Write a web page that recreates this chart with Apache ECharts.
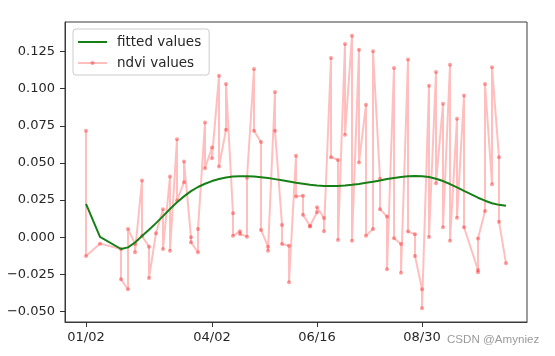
<!DOCTYPE html>
<html>
<head>
<meta charset="utf-8">
<script src="https://cdn.jsdelivr.net/npm/echarts@6/dist/echarts.min.js"></script>
<style>
html,body{margin:0;padding:0;background:#fff;}
#chart{width:555px;height:356px;}
</style>
</head>
<body>
<div id="chart"></div>
<script>
// Observation dates (5-day revisit grid, some missing)
const dates = ['2019-01-02','2019-01-12','2019-01-27','2019-02-01','2019-02-06','2019-02-11','2019-02-16','2019-02-21','2019-02-26','2019-03-03',
  '2019-03-08','2019-03-13','2019-03-18','2019-03-23','2019-03-28','2019-04-02','2019-04-07','2019-04-12','2019-04-17','2019-04-22',
  '2019-04-27','2019-05-02','2019-05-07','2019-05-12','2019-05-17','2019-05-22','2019-05-27','2019-06-01','2019-06-06','2019-06-11',
  '2019-06-16','2019-06-21','2019-06-26','2019-07-01','2019-07-06','2019-07-11','2019-07-16','2019-07-21','2019-07-26','2019-07-31',
  '2019-08-05','2019-08-10','2019-08-15','2019-08-20','2019-08-25','2019-08-30','2019-09-04','2019-09-09','2019-09-14','2019-09-19',
  '2019-09-24','2019-09-29','2019-10-09','2019-10-14','2019-10-19','2019-10-24','2019-10-29'];
// NDVI observations per date (in plotting order)
const ndvi = [[0.0716,-0.0126],[-0.0043],[-0.0079,-0.0283],[-0.035,0.0056],[-0.0045,-0.0101],[0.0381,0.0009],[-0.0063,-0.0274],[0.0027],[0.0189,-0.0079],[0.0408,-0.009],
  [0.066,0.0247],[0.037,0.051],[0.0,-0.0034],[-0.0101,0.0056],[0.0772,0.0465],[0.0604,0.0532],[0.1087,0.0476],[0.0723,0.1031],[0.0162,0.001],[0.004,0.0022],
  [0.0004,0.040],[0.1132,0.0716],[0.064,0.0049],[-0.0063,-0.009],[0.0977,0.0716],[0.0083,-0.0045],[-0.0057,-0.0303],[0.0548,0.0274],[0.028,0.0152],[0.0076,0.0072],
  [0.0168,0.0202],[0.013,0.004],[0.1206,0.0539],[0.052,-0.0018],[0.13,0.069],[0.1356,-0.0023],[0.1262,0.0503],[0.0891,0.0011],[0.0056,0.1251],[0.0393,0.0189],
  [0.0139,-0.0216],[0.1139,-0.0007],[-0.0045,-0.0238],[0.1195,0.0038],[0.002,-0.0126],[-0.035,-0.0478],[0.102,0.0002],[0.1112,0.0364],[0.0898,0.0067],[0.116,-0.0023],
  [0.0797,0.0132],[0.0954,0.0067],[-0.022,-0.0236,-0.0009],[0.0177,0.1031],[0.0357,0.1143],[0.0539,0.0105],[-0.0175]];
// Fitted curve values per date
const fitted = [0.0225,0.0002,-0.0079,-0.0068,-0.0035,0.0008,0.005,0.0095,0.0142,0.019,
  0.0235,0.0275,0.031,0.0338,0.036,0.0378,0.0392,0.0402,0.0408,0.0411,
  0.0411,0.0408,0.0404,0.0398,0.0391,0.0383,0.0375,0.0367,0.036,0.0353,
  0.0348,0.0345,0.0344,0.0345,0.0348,0.0353,0.0359,0.0366,0.0374,0.0382,
  0.0392,0.0399,0.0406,0.041,0.0412,0.0411,0.0405,0.0394,0.0378,0.0358,
  0.0336,0.0312,0.0266,0.0246,0.0229,0.0218,0.0212];
const xTickDates = ['2019-01-02','2019-04-02','2019-06-16','2019-08-30'];
const yTicks = [-0.05,-0.025,0,0.025,0.05,0.075,0.1,0.125];

const base = Date.UTC(2019,0,2);
function dayOf(s){const p=s.split('-').map(Number);return (Date.UTC(p[0],p[1]-1,p[2])-base)/86400000;}
function labelOf(d){const t=new Date(base+d*86400000);const m=String(t.getUTCMonth()+1).padStart(2,'0');const dd=String(t.getUTCDate()).padStart(2,'0');return m+'/'+dd;}

const ndviData=[];const fitData=[];
dates.forEach((s,i)=>{const d=dayOf(s);ndvi[i].forEach(v=>ndviData.push([d,v]));fitData.push([d,fitted[i]]);});
const xTicks = xTickDates.map(dayOf);

const font='DejaVu Sans';
const green='#168016';
const chart = echarts.init(document.getElementById('chart'),null,{renderer:'canvas'});
chart.setOption({
  animation:false,
  backgroundColor:'#fff',
  grid:{left:65,right:28,top:22,bottom:34,show:true,borderColor:'#3a3a3a',borderWidth:1,backgroundColor:'transparent'},
  xAxis:{type:'value',min:-15,max:315,
    axisLine:{show:true,onZero:false,lineStyle:{color:'#3a3a3a',width:1}},
    axisTick:{show:true,length:5,lineStyle:{color:'#333'},customValues:xTicks},
    axisLabel:{margin:9,color:'#262626',fontFamily:font,fontSize:13,customValues:xTicks,formatter:v=>labelOf(v)},
    splitLine:{show:false}},
  yAxis:{type:'value',min:-0.0570,max:0.1448,
    axisLine:{show:true,onZero:false,lineStyle:{color:'#3a3a3a',width:1}},
    axisTick:{show:true,length:5,lineStyle:{color:'#333'},customValues:yTicks},
    axisLabel:{margin:10,color:'#262626',fontFamily:font,fontSize:13,customValues:yTicks,formatter:v=>v.toFixed(3).replace('-','\u2212')},
    splitLine:{show:false}},
  legend:{orient:'vertical',left:73,top:29,itemWidth:29,itemHeight:5,itemGap:7,
    padding:[6,8,5,4],backgroundColor:'rgba(255,255,255,0.85)',borderColor:'#cccccc',borderWidth:1,borderRadius:3,
    textStyle:{fontFamily:font,fontSize:13.5,color:'#262626',padding:[0,0,0,5]},
    data:[{name:'fitted values',itemStyle:{opacity:0}},'ndvi values']},
  graphic:[{type:'text',left:447,top:334,style:{text:'CSDN @Amyniez',fill:'#9a9a9a',font:'11.6px "Liberation Sans"'}}],
  series:[
    {name:'ndvi values',type:'line',data:ndviData,symbol:'circle',symbolSize:4,showSymbol:true,
      lineStyle:{color:'rgba(255,0,0,0.25)',width:2},itemStyle:{color:'rgba(255,40,40,0.45)',borderWidth:0},z:2},
    {name:'fitted values',type:'line',data:fitData,symbol:'none',smooth:false,
      lineStyle:{color:green,width:2},itemStyle:{color:green},z:3}
  ]
});
</script>
</body>
</html>
